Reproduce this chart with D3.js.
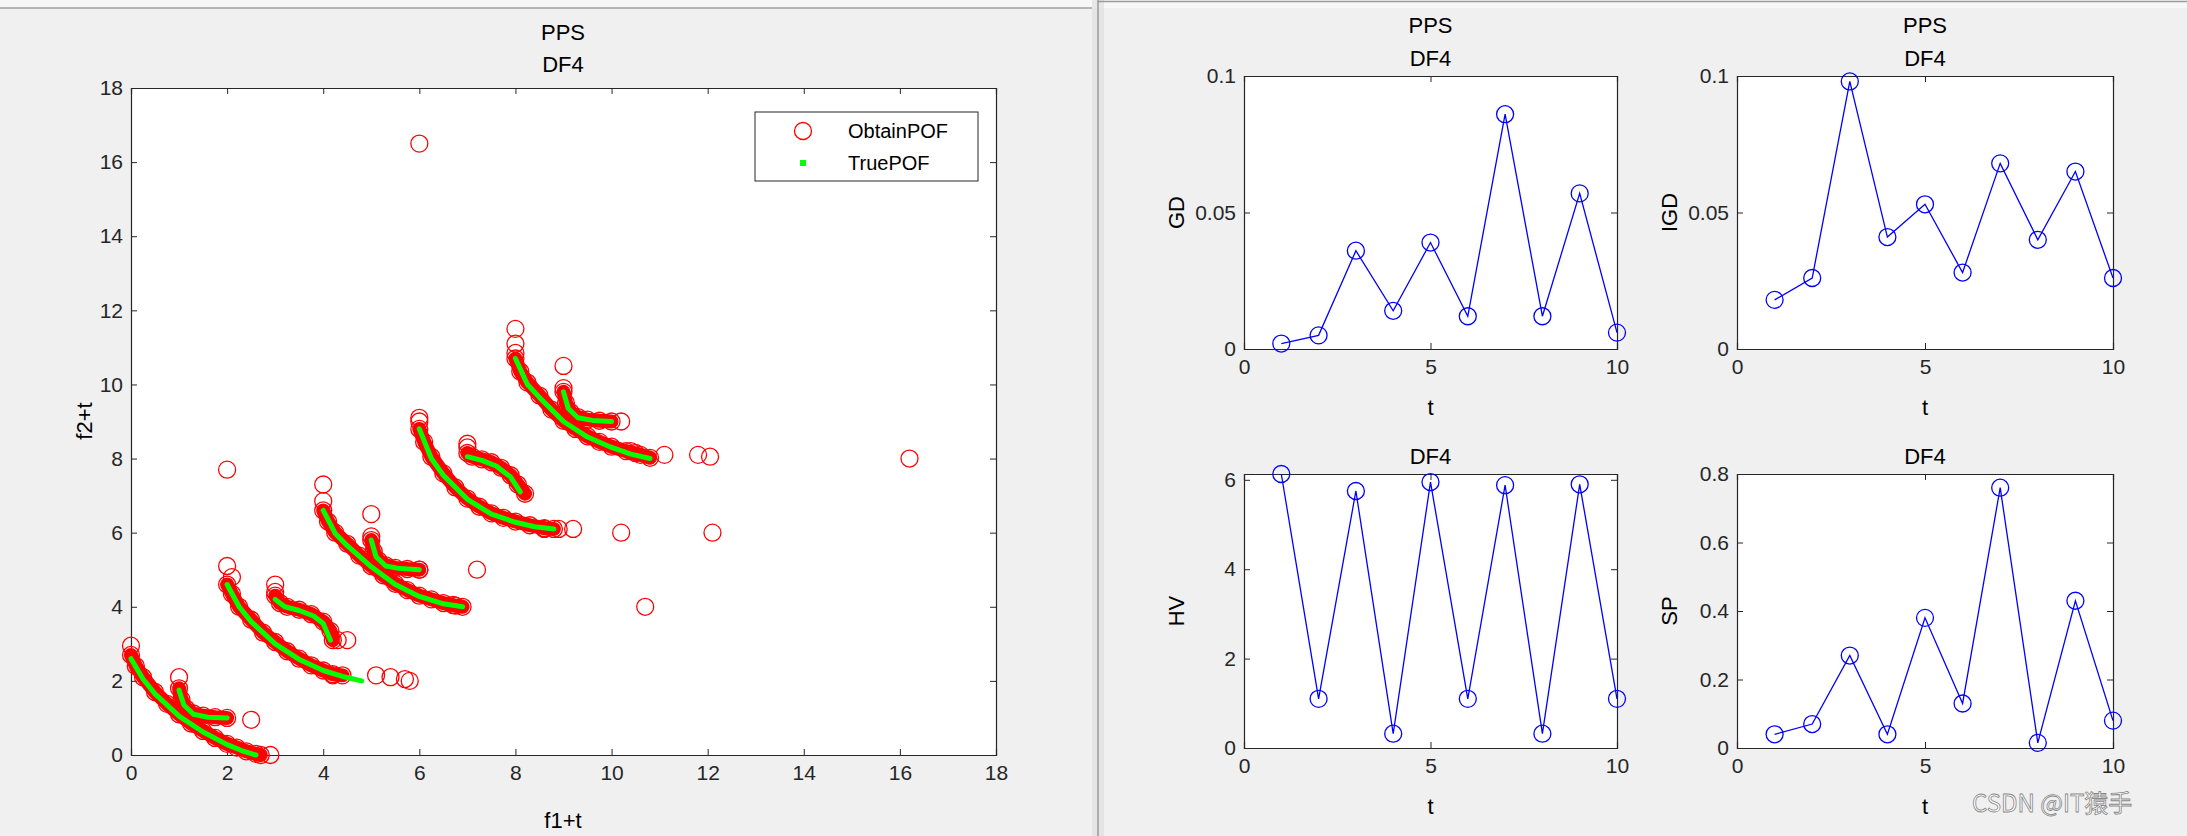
<!DOCTYPE html>
<html><head><meta charset="utf-8">
<script src="https://cdn.jsdelivr.net/npm/d3@7"></script>
<style>body{margin:0;background:#f0f0f0;font-family:"Liberation Sans",Arial,sans-serif}</style>
</head><body><svg id="c" width="2187" height="836"></svg>
<script>
// ---------- data ----------
const tVals = [1,2,3,4,5,6,7,8,9,10];
const GD  = [0.002,0.005,0.036,0.014,0.039,0.012,0.086,0.012,0.057,0.006];
const IGD = [0.018,0.026,0.098,0.041,0.053,0.028,0.068,0.040,0.065,0.026];
const HV  = [6.13,1.10,5.75,0.32,5.95,1.10,5.88,0.32,5.90,1.10];
const SP  = [0.04,0.07,0.27,0.04,0.38,0.13,0.76,0.015,0.43,0.08];
const xTicks18 = [0,2,4,6,8,10,12,14,16,18];
// obtained fronts (sampled)
const obtainFronts = [
 [[0,2.7],[0.1,2.4],[0.25,2.1],[0.5,1.7],[0.75,1.38],[1,1.1],[1.25,0.85],[1.5,0.65],[1.75,0.46],[2,0.3],[2.2,0.2],[2.4,0.1],[2.6,0.03],[2.7,0]],
 [[1,1.8],[1.05,1.5],[1.15,1.25],[1.3,1.12],[1.5,1.06],[1.75,1.02],[2,1.0]],
 [[2,4.6],[2.1,4.35],[2.25,4.0],[2.5,3.65],[2.75,3.3],[3,3.05],[3.25,2.8],[3.5,2.6],[3.75,2.42],[4,2.28],[4.2,2.18],[4.4,2.15]],
 [[3,4.3],[3.1,4.1],[3.25,4.0],[3.5,3.92],[3.75,3.8],[4,3.6],[4.15,3.35],[4.2,3.1]],
 [[4,6.6],[4.1,6.3],[4.25,6.0],[4.5,5.7],[4.75,5.38],[5,5.1],[5.25,4.85],[5.5,4.62],[5.75,4.45],[6,4.3],[6.25,4.2],[6.5,4.1],[6.75,4.03],[6.9,4.0]],
 [[5,5.8],[5.05,5.5],[5.15,5.25],[5.3,5.12],[5.5,5.05],[5.75,5.02],[6,5.0]],
 [[6,8.8],[6.1,8.45],[6.25,8.05],[6.5,7.6],[6.75,7.22],[7,6.92],[7.25,6.7],[7.5,6.52],[7.75,6.4],[8,6.3],[8.3,6.2],[8.6,6.12],[8.8,6.1]],
 [[7,8.15],[7.1,8.05],[7.3,7.98],[7.5,7.9],[7.7,7.75],[7.9,7.55],[8.05,7.3],[8.2,7.05]],
 [[8,10.7],[8.1,10.35],[8.25,10.05],[8.5,9.7],[8.75,9.32],[9,9.02],[9.25,8.8],[9.5,8.6],[9.75,8.45],[10,8.32],[10.3,8.2],[10.6,8.1],[10.8,8.02]],
 [[9,9.8],[9.05,9.5],[9.15,9.25],[9.3,9.12],[9.5,9.05],[9.75,9.02],[10,9.0]]
];
const outliers = [[6,16.5],[16.2,8],[2,7.7],[0,2.95],[1,2.1],[2.5,0.95],[2.9,0],[2,5.1],[2.1,4.8],[3,4.6],[4,7.3],[4,6.85],[5,6.5],[5,5.9],[4.5,3.1],[4.3,3.1],[4.2,2.15],[5.1,2.15],[5.4,2.1],[5.7,2.05],[5.8,2.0],[6,9.1],[6,9.0],[6,5.0],[7,8.4],[7.2,5.0],[6.7,4.05],[8,11.5],[8,11.1],[8,10.85],[9,10.5],[9,9.9],[10.2,9.0],[10.2,6.0],[12.1,6.0],[10.7,4.0],[11.1,8.1],[11.8,8.1],[12.05,8.05],[10.4,8.2],[10.5,8.15],[8.6,6.1],[8.9,6.1],[9.2,6.1],[3,4.4],[7,8.3]];
const trueFronts = [
 [[0,2.6],[0.25,2.05],[0.5,1.65],[1,1.05],[1.5,0.62],[2,0.28],[2.3,0.12],[2.6,0]],
 [[1,1.75],[1.1,1.35],[1.3,1.1],[1.6,1.02],[2,1.0]],
 [[2,4.6],[2.25,4.0],[2.5,3.6],[3,3.0],[3.5,2.58],[4,2.28],[4.4,2.12],[4.8,2.0]],
 [[3,4.2],[3.2,4.0],[3.5,3.9],[3.8,3.75],[4,3.55],[4.15,3.1]],
 [[4,6.6],[4.25,5.98],[4.5,5.65],[5,5.08],[5.5,4.6],[6,4.28],[6.5,4.08],[6.9,4.0]],
 [[5,5.8],[5.1,5.35],[5.3,5.1],[5.6,5.03],[6,5.0]],
 [[6,8.8],[6.25,8.0],[6.5,7.55],[7,6.9],[7.5,6.5],[8,6.28],[8.4,6.16],[8.8,6.1]],
 [[7,8.05],[7.3,7.95],[7.6,7.8],[7.9,7.5],[8.1,7.1]],
 [[8,10.7],[8.25,10.0],[8.5,9.65],[9,9.0],[9.5,8.58],[10,8.3],[10.4,8.12],[10.8,8.0]],
 [[9,9.8],[9.1,9.35],[9.3,9.1],[9.6,9.03],[10,9.0]]
];

const svg = d3.select("#c");
const F = '"Liberation Sans",Arial,sans-serif';
// window chrome
svg.append("rect").attr("x",0).attr("y",0).attr("width",2187).attr("height",8).attr("fill","#f7f7f7");
svg.append("line").attr("x1",0).attr("x2",1092).attr("y1",8).attr("y2",8).attr("stroke","#a0a0a0").attr("stroke-width",1.5);
svg.append("rect").attr("x",1092).attr("y",0).attr("width",12).attr("height",836).attr("fill","#dcdcdc").attr("opacity",0.6);
svg.append("line").attr("x1",1098).attr("x2",1098).attr("y1",0).attr("y2",836).attr("stroke","#9a9a9a").attr("stroke-width",1.5);
svg.append("line").attr("x1",1098).attr("x2",2187).attr("y1",1.5).attr("y2",1.5).attr("stroke","#9a9a9a").attr("stroke-width",1.5);

function axesBox(x0,x1,y0,y1,xs,ys,xt,yt,fmtY){
  const g = svg.append("g");
  g.append("rect").attr("x",x0).attr("y",y0).attr("width",x1-x0).attr("height",y1-y0).attr("fill","#fff");
  const gx = g.append("g").attr("transform",`translate(0,${y1})`).call(d3.axisBottom(xs).tickValues(xt).tickSize(-6).tickPadding(10));
  const gx2 = g.append("g").attr("transform",`translate(0,${y0})`).call(d3.axisTop(xs).tickValues(xt).tickSize(-6).tickFormat(""));
  const gy = g.append("g").attr("transform",`translate(${x0},0)`).call(d3.axisLeft(ys).tickValues(yt).tickSize(-6).tickPadding(8).tickFormat(fmtY||d3.format("")));
  const gy2 = g.append("g").attr("transform",`translate(${x1},0)`).call(d3.axisRight(ys).tickValues(yt).tickSize(-6).tickFormat(""));
  [gx,gx2,gy,gy2].forEach(a=>{a.select(".domain").attr("stroke","#262626").attr("stroke-width",1.2);
    a.selectAll("line").attr("stroke","#262626");
    a.selectAll("text").attr("font-family",F).attr("font-size",21).attr("fill","#262626");});
  return g;
}
function text(x,y,s,size,rot){
  const t=svg.append("text").attr("font-family",F).attr("font-size",size).attr("fill","#000").attr("text-anchor","middle").text(s);
  if(rot) t.attr("transform",`translate(${x},${y}) rotate(-90)`); else t.attr("x",x).attr("y",y);
  return t;
}

// ---------- main scatter ----------
const X = d3.scaleLinear().domain([0,18]).range([131,996]);
const Y = d3.scaleLinear().domain([0,18]).range([755,88]);
axesBox(131,996,88,755,X,Y,xTicks18,xTicks18);
const clipG = svg.append("g");
const line = d3.line().x(d=>X(d[0])).y(d=>Y(d[1]));
obtainFronts.forEach(f=>{
  clipG.append("path").attr("d",line(f)).attr("fill","none").attr("stroke","#ff0000").attr("stroke-width",14).attr("stroke-linecap","round").attr("stroke-linejoin","round");
});
const allObt = obtainFronts.flat().concat(outliers);
clipG.selectAll("circle.o").data(allObt).enter().append("circle")
  .attr("cx",d=>X(d[0])).attr("cy",d=>Y(d[1])).attr("r",8.5).attr("fill","none").attr("stroke","#ff0000").attr("stroke-width",1.3);
trueFronts.forEach(f=>{
  clipG.append("path").attr("d",line(f)).attr("fill","none").attr("stroke","#00ff00").attr("stroke-width",5).attr("stroke-linecap","round").attr("stroke-linejoin","round");
});
text(563,40,"PPS",22); text(563,72,"DF4",22);
text(563,828,"f1+t",22); text(92,421,"f2+t",22,true);
// legend
const lg = svg.append("g");
lg.append("rect").attr("x",755).attr("y",112).attr("width",223).attr("height",69).attr("fill","#fff").attr("stroke","#262626").attr("stroke-width",1);
lg.append("circle").attr("cx",803).attr("cy",131).attr("r",8.5).attr("fill","none").attr("stroke","#ff0000").attr("stroke-width",1.3);
lg.append("rect").attr("x",800).attr("y",160).attr("width",6).attr("height",6).attr("fill","#00ff00");
lg.append("text").attr("x",848).attr("y",138).attr("font-family",F).attr("font-size",20).text("ObtainPOF");
lg.append("text").attr("x",848).attr("y",170).attr("font-family",F).attr("font-size",20).text("TruePOF");

// ---------- small panels ----------
function panel(x0,x1,y0,y1,vals,ymax,yt,fmt,ylab,titles){
  const xs=d3.scaleLinear().domain([0,10]).range([x0,x1]);
  const ys=d3.scaleLinear().domain([0,ymax]).range([y1,y0]);
  axesBox(x0,x1,y0,y1,xs,ys,[0,5,10],yt,fmt);
  const pts=tVals.map((t,i)=>[t,vals[i]]);
  svg.append("path").attr("d",d3.line().x(d=>xs(d[0])).y(d=>ys(d[1]))(pts)).attr("fill","none").attr("stroke","#0000ff").attr("stroke-width",1.3);
  svg.selectAll(null).data(pts).enter().append("circle").attr("cx",d=>xs(d[0])).attr("cy",d=>ys(d[1])).attr("r",8.5).attr("fill","none").attr("stroke","#0000ff").attr("stroke-width",1.3);
  const cx=(x0+x1)/2;
  if(titles.length===2){text(cx,y0-43,titles[0],22);text(cx,y0-10,titles[1],22);} else text(cx,y0-10,titles[0],22);
  text(cx,y1+66,"t",22);
  text(x0-60,(y0+y1)/2,ylab,22,true);
}
const f2=d=>d===0?"0":String(d);
panel(1244,1617,76,349,GD,0.1,[0,0.05,0.1],f2,"GD",["PPS","DF4"]);
panel(1737,2113,76,349,IGD,0.1,[0,0.05,0.1],f2,"IGD",["PPS","DF4"]);
panel(1244,1617,474,748,HV,6.13,[0,2,4,6],f2,"HV",["DF4"]);
panel(1737,2113,474,748,SP,0.8,[0,0.2,0.4,0.6,0.8],f2,"SP",["DF4"]);
svg.append("text").attr("x",1972).attr("y",812).attr("font-family",'"Noto Sans CJK SC",sans-serif').attr("font-size",24).attr("fill","#fff").attr("stroke","#888").attr("stroke-width",0.8).text("CSDN @IT猿手");
</script></body></html>
